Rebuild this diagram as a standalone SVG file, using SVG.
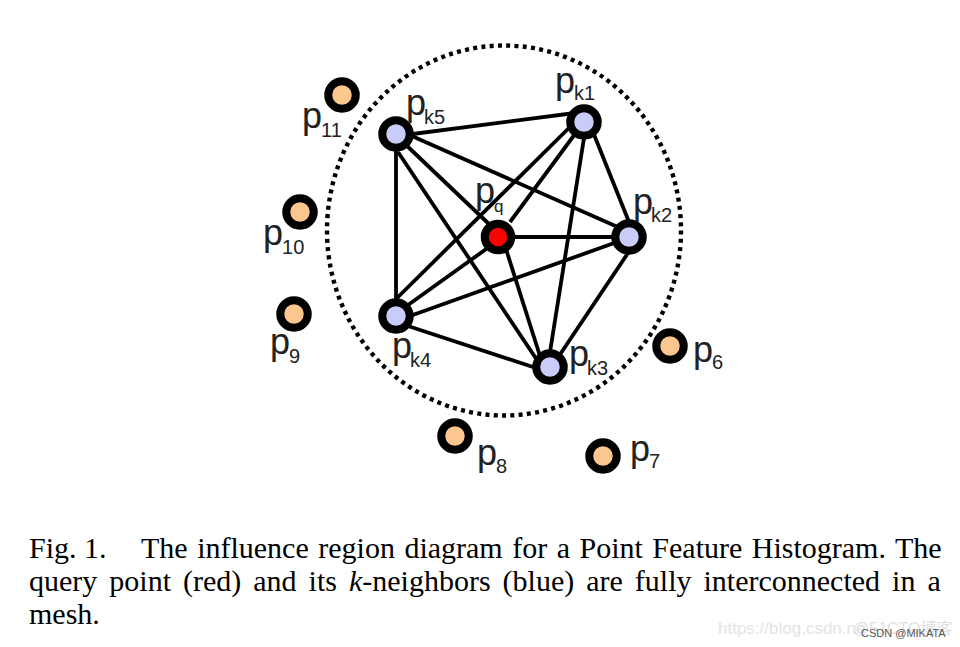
<svg xmlns="http://www.w3.org/2000/svg" width="960" height="647" viewBox="0 0 960 647">
<style>
.e{stroke:#000;stroke-width:3.8;fill:none}
.o{fill:#fcc78f;stroke:#000;stroke-width:8}
.b{fill:#c9cbf8;stroke:#000;stroke-width:8}
.r{fill:#f00;stroke:#000;stroke-width:8}
.p{font-family:"Liberation Sans",Arial,sans-serif;font-size:36px;fill:#222}
.s{font-size:20px}
.c{font-family:"Liberation Serif","Times New Roman",serif;font-size:30px;fill:#000}
.w{font-family:"Liberation Sans","Noto Sans CJK SC",sans-serif}
</style>
<rect width="960" height="647" fill="#fff"/>
<ellipse id="region" cx="504" cy="230.5" rx="177" ry="185" fill="none" stroke="#000" stroke-width="4.4" stroke-dasharray="4 4.3"/>
<g id="connectors">
<line class="e" x1="405" y1="135" x2="575" y2="113"/>
<line class="e" x1="405" y1="133" x2="620" y2="228"/>
<line class="e" x1="405" y1="144" x2="490" y2="225"/>
<line class="e" x1="396" y1="145" x2="396" y2="305"/>
<line class="e" x1="398" y1="152" x2="537" y2="360"/>
<line class="e" x1="593" y1="132" x2="629" y2="222"/>
<line class="e" x1="575" y1="134" x2="510" y2="222"/>
<line class="e" x1="397" y1="298" x2="573" y2="124"/>
<line class="e" x1="584" y1="138" x2="550" y2="352"/>
<line class="e" x1="510" y1="237" x2="615" y2="237"/>
<line class="e" x1="410" y1="316" x2="617" y2="242"/>
<line class="e" x1="630" y1="250" x2="559" y2="356"/>
<line class="e" x1="408" y1="305" x2="489" y2="247"/>
<line class="e" x1="505" y1="246" x2="540" y2="356"/>
<line class="e" x1="408" y1="326" x2="536" y2="368"/>
</g>
<g id="pk1"><circle class="b" cx="584" cy="122" r="13.75"/><text class="p" x="555" y="93">p<tspan class="s" dy="7" dx="-1">k1</tspan></text></g>
<g id="pk2"><circle class="b" cx="629" cy="237" r="13.75"/><text class="p" x="633" y="214">p<tspan class="s" dy="8" dx="-2">k2</tspan></text></g>
<g id="pk3"><circle class="b" cx="550" cy="367" r="13.75"/><text class="p" x="569" y="366">p<tspan class="s" dy="9" dx="-2">k3</tspan></text></g>
<g id="pk4"><circle class="b" cx="396" cy="316" r="13.75"/><text class="p" x="392" y="358">p<tspan class="s" dy="9" dx="-2">k4</tspan></text></g>
<g id="pk5"><circle class="b" cx="396" cy="134" r="13.75"/><text class="p" x="406" y="115">p<tspan class="s" dy="9" dx="-2">k5</tspan></text></g>
<g id="pq"><circle class="r" cx="498" cy="237" r="13.25"/><text class="p" x="475" y="203">p<tspan font-size="17" dy="9" dx="-1">q</tspan></text></g>
<g id="p6"><circle class="o" cx="670" cy="346" r="13.75"/><text class="p" x="693" y="362">p<tspan class="s" dy="7" dx="-1">6</tspan></text></g>
<g id="p7"><circle class="o" cx="603" cy="456" r="13.75"/><text class="p" x="630" y="461">p<tspan class="s" dy="7" dx="-1">7</tspan></text></g>
<g id="p8"><circle class="o" cx="455" cy="436" r="13.75"/><text class="p" x="477" y="465">p<tspan class="s" dy="8" dx="-1">8</tspan></text></g>
<g id="p9"><circle class="o" cx="294" cy="314" r="13.75"/><text class="p" x="270" y="354">p<tspan class="s" dy="9" dx="-1">9</tspan></text></g>
<g id="p10"><circle class="o" cx="300" cy="212" r="13.75"/><text class="p" x="263" y="245">p<tspan class="s" dy="9" dx="-1">10</tspan></text></g>
<g id="p11"><circle class="o" cx="342" cy="95" r="13.75"/><text class="p" x="302" y="128">p<tspan class="s" dy="9" dx="-1">11</tspan></text></g>
<g id="caption">
<text class="c" x="29" y="558">Fig. 1.</text>
<text class="c" x="141" y="558" word-spacing="2">The influence region diagram for a Point Feature Histogram. The</text>
<text class="c" x="29" y="591" word-spacing="4.5">query point (red) and its <tspan font-style="italic">k</tspan>-neighbors (blue) are fully interconnected in a</text>
<text class="c" x="29" y="624">mesh.</text>
</g>
<g id="watermark">
<text class="w" x="718" y="634" font-size="17" fill="#e4e4e4">https://blog.csdn.ne</text>
<text class="w" x="853" y="634" font-size="16" fill="#e0e0e0">@51CTO博客</text>
<text class="w" x="861" y="637" font-size="11" fill="#555">CSDN @MIKATA</text>
</g>
</svg>
